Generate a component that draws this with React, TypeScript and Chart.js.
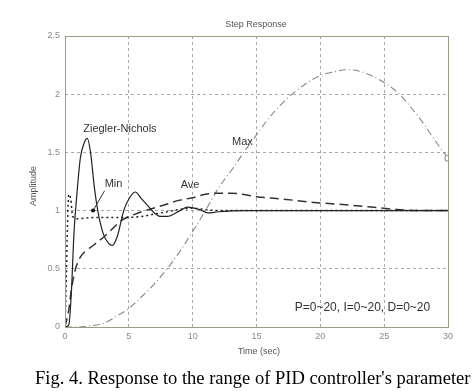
import React, { useEffect, useRef } from "react";
import { Chart, registerables } from "chart.js";

Chart.register(...registerables);

const xTicks = [0, 5, 10, 15, 20, 25, 30];
const yTicks = [0, 0.5, 1, 1.5, 2, 2.5];

const znT = [0, 0.3, 0.5, 0.7, 0.9, 1.2, 1.5, 1.75, 2.0, 2.3, 2.6, 3.0, 3.4, 3.7, 4.1, 4.6, 5.0, 5.5, 6.0, 6.5, 7.0, 7.5, 8.0, 9.0, 9.6, 10.5, 11.2, 12, 14, 30];
const znY = [0, 0.02, 0.3, 0.8, 1.1, 1.45, 1.58, 1.62, 1.5, 1.2, 0.98, 0.8, 0.72, 0.7, 0.78, 1.0, 1.1, 1.16, 1.1, 1.04, 0.98, 0.95, 0.95, 1.0, 1.03, 1.01, 0.98, 0.99, 1.0, 1.0];

const minT = [0, 0.1, 0.2, 0.3, 0.45, 0.6, 1, 2, 4, 6, 7, 8, 9, 10, 11, 12, 30];
const minY = [0, 0.4, 0.9, 1.14, 1.1, 0.95, 0.93, 0.94, 0.94, 0.95, 0.97, 0.99, 1.01, 1.02, 1.01, 1.0, 1.0];

const aveT = [0, 0.3, 0.5, 0.8, 1.2, 1.6, 2.2, 3.1, 4.5, 5.5, 6.3, 7.5, 9, 10, 11, 12, 13, 15, 17, 19.5, 22, 24, 26, 28, 30];
const aveY = [0, 0.15, 0.32, 0.49, 0.6, 0.65, 0.7, 0.78, 0.92, 0.97, 1.0, 1.04, 1.09, 1.11, 1.14, 1.15, 1.15, 1.12, 1.1, 1.07, 1.05, 1.03, 1.01, 1.0, 1.0];

const maxT = [0, 1, 2, 3, 4, 5, 6, 7, 8, 9, 10, 11, 12, 13, 14, 15, 16, 17, 18, 19, 20, 21, 22, 23, 24, 25, 26, 27, 28, 29, 30];
const maxY = [0, 0, 0.01, 0.03, 0.09, 0.16, 0.26, 0.37, 0.5, 0.65, 0.82, 1.0, 1.19, 1.34, 1.5, 1.65, 1.8, 1.92, 2.02, 2.1, 2.16, 2.19, 2.21, 2.2, 2.16, 2.1, 2.02, 1.9, 1.76, 1.6, 1.45];

const seriesLabels = ["Ziegler-Nichols", "Min", "Ave", "Max"];
const titleText = "Step Response";
const xTitle = "Time (sec)";
const yTitle = "Amplitude";
const noteText = "P=0~20, I=0~20, D=0~20";
const captionText = "Fig. 4. Response to the range of PID controller's parameter";

const zip = (t: number[], y: number[]) => t.map((x, i) => ({ x, y: y[i] }));

export default function App() {
  const ref = useRef<HTMLCanvasElement>(null);
  useEffect(() => {
    if (!ref.current) return;
    const overlay = {
      id: "overlay",
      afterDraw(chart: any) {
        const ctx = chart.ctx;
        const a = chart.chartArea;
        const xs = chart.scales.x;
        const ys = chart.scales.y;
        const px = (v: number) => xs.getPixelForValue(v);
        const py = (v: number) => ys.getPixelForValue(v);
        ctx.save();
        ctx.strokeStyle = "#9c9a8a";
        ctx.lineWidth = 1;
        ctx.setLineDash([]);
        ctx.strokeRect(a.left + 0.5, a.top + 0.5, a.right - a.left, a.bottom - a.top);

        ctx.fillStyle = "#333";
        ctx.textAlign = "center";
        ctx.textBaseline = "middle";
        ctx.font = "11px 'Liberation Sans', Arial, sans-serif";
        ctx.fillText(seriesLabels[0], px(4.3), py(1.70));
        ctx.fillText(seriesLabels[1], px(3.8), py(1.23));
        ctx.fillText(seriesLabels[2], px(9.8), py(1.22));
        ctx.fillText(seriesLabels[3], px(13.9), py(1.59));
        ctx.font = "12px 'Liberation Sans', Arial, sans-serif";
        ctx.fillText(noteText, px(23.3), py(0.17));

        ctx.strokeStyle = "#333";
        ctx.beginPath();
        ctx.moveTo(px(3.1), py(1.17));
        ctx.lineTo(px(2.2), py(1.0));
        ctx.stroke();
        ctx.fillStyle = "#111";
        ctx.beginPath();
        ctx.arc(px(2.2), py(1.0), 2, 0, Math.PI * 2);
        ctx.fill();

        ctx.fillStyle = "#555";
        ctx.font = "9px 'Liberation Sans', Arial, sans-serif";
        ctx.fillText(titleText, 256, 25);
        ctx.fillText(xTitle, 259, 352);
        ctx.save();
        ctx.translate(34, 186);
        ctx.rotate(-Math.PI / 2);
        ctx.fillText(yTitle, 0, 0);
        ctx.restore();

        ctx.fillStyle = "#000";
        ctx.textAlign = "left";
        ctx.font = "18.5px 'Liberation Serif', 'Times New Roman', serif";
        ctx.fillText(captionText, 35, 379);
        ctx.restore();
      },
    };
    const fmt = (v: any) => String(v);
    const chart = new Chart(ref.current, {
      type: "line",
      data: {
        datasets: [
          { label: seriesLabels[0], data: zip(znT, znY), borderColor: "#222", borderWidth: 1.2, pointRadius: 0, cubicInterpolationMode: "monotone" },
          { label: seriesLabels[1], data: zip(minT, minY), borderColor: "#222", borderWidth: 1.5, borderDash: [2, 3], pointRadius: 0, cubicInterpolationMode: "monotone" },
          { label: seriesLabels[2], data: zip(aveT, aveY), borderColor: "#333", borderWidth: 1.5, borderDash: [9, 5], pointRadius: 0, cubicInterpolationMode: "monotone" },
          {
            label: seriesLabels[3], data: zip(maxT, maxY), borderColor: "#888", borderWidth: 1.1, borderDash: [7, 3, 1, 3],
            pointRadius: (c: any) => (c.dataIndex === maxT.length - 1 ? 3 : 0),
            pointBackgroundColor: "#fff", pointBorderColor: "#999", cubicInterpolationMode: "monotone",
          },
        ] as any,
      },
      options: {
        responsive: false,
        animation: false,
        events: [],
        layout: { padding: { left: 0, right: 26, top: 36, bottom: 0 } },
        plugins: { legend: { display: false }, tooltip: { enabled: false }, title: { display: false } },
        scales: {
          x: {
            type: "linear", min: 0, max: 30,
            afterBuildTicks: (s: any) => { s.ticks = xTicks.map((v) => ({ value: v })); },
            afterFit: (s: any) => { s.height = 64; },
            grid: { color: "#a8a8a8", drawTicks: false, lineWidth: 1 },
            border: { display: false, dash: [3, 3] },
            ticks: { color: "#888", font: { size: 9, family: "'Liberation Sans', Arial, sans-serif" }, padding: 4, maxRotation: 0, callback: fmt },
          },
          y: {
            type: "linear", min: 0, max: 2.5,
            afterBuildTicks: (s: any) => { s.ticks = yTicks.map((v) => ({ value: v })); },
            afterFit: (s: any) => { s.width = 65; },
            grid: { color: "#a8a8a8", drawTicks: false, lineWidth: 1 },
            border: { display: false, dash: [3, 3] },
            ticks: { color: "#888", font: { size: 9, family: "'Liberation Sans', Arial, sans-serif" }, padding: 5, callback: fmt },
          },
        },
      } as any,
      plugins: [overlay],
    });
    return () => chart.destroy();
  }, []);
  return (
    <div style={{ position: "fixed", left: 0, top: 0, width: 474, height: 391, background: "#fff" }}>
      <canvas ref={ref} width={474} height={391} style={{ width: 474, height: 391 }} />
    </div>
  );
}
